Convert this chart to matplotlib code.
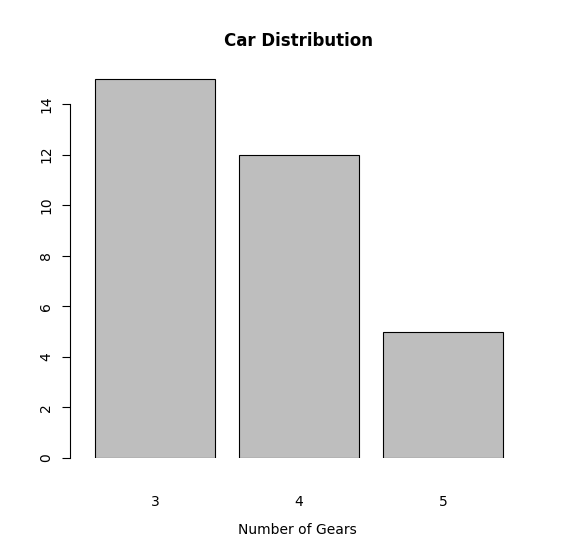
import matplotlib
matplotlib.use("Agg")
import matplotlib.pyplot as plt

gears = ["3", "4", "5"]
counts = [15, 12, 5]
yticks = [0, 2, 4, 6, 8, 10, 12, 14]

fig = plt.figure(figsize=(5.61, 5.60), dpi=100)
ax = fig.add_axes([71/561, (560-458)/560, 459/561, (458-63.5)/560])
centers = [0.7 + 1.2*i for i in range(len(gears))]
ax.bar(centers, counts, width=1.0, color="#BEBEBE", edgecolor="black", linewidth=0.8)
ax.set_xlim(0, 3.825)
ax.set_ylim(0, 15.6)
for s in ["top", "right", "bottom"]:
    ax.spines[s].set_visible(False)
ax.spines["left"].set_bounds(0, 14)
ax.spines["left"].set_position(("outward", 1))
ax.set_yticks(yticks)
ax.set_yticklabels([str(v) for v in yticks], rotation=90, va="center", fontsize=10)
ax.tick_params(axis="y", length=6, pad=6)
ax.set_xticks(centers)
ax.set_xticklabels(gears, fontsize=10)
ax.tick_params(axis="x", length=0, pad=27)
fig.text(297/561, 1-530/560, "Number of Gears", ha="center", va="center", fontsize=10)
fig.text(299/561, 1-41/560, "Car Distribution", ha="center", va="center", fontsize=12, fontweight="bold")
fig.savefig("out.png", dpi=100)
